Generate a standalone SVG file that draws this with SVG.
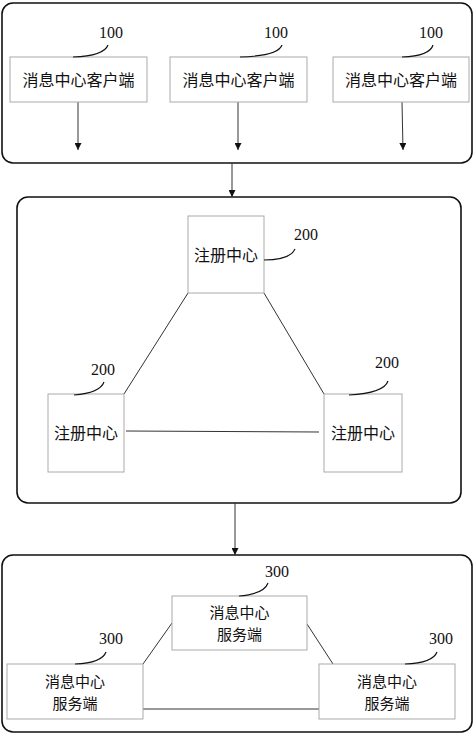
<svg xmlns="http://www.w3.org/2000/svg" width="474" height="734" viewBox="0 0 474 734">
<defs>
<style>
.cont{fill:#fff;stroke:#111;stroke-width:1.6}
.box{fill:#fff;stroke:#aaa;stroke-width:1}
.t{font-family:"Noto Sans CJK SC","Noto Sans",sans-serif;font-size:16px;fill:#111;text-anchor:middle}
.t2{font-family:"Noto Sans CJK SC","Noto Sans",sans-serif;font-size:15px;fill:#111;text-anchor:middle}
.n{font-family:"Liberation Serif",serif;font-size:16px;fill:#111;text-anchor:middle}
.lead{fill:none;stroke:#111;stroke-width:1.2}
.c{fill:none;stroke:#333;stroke-width:1}
</style>
<marker id="ah" viewBox="0 0 10 10" refX="10" refY="5" markerWidth="7" markerHeight="7" markerUnits="userSpaceOnUse" orient="auto">
<path d="M0,0 L10,5 L0,10 z" fill="#111"/>
</marker>
</defs>
<rect width="474" height="734" fill="#fff"/>
<g id="containers">
<rect id="clients" class="cont" x="2" y="3" width="470" height="160" rx="11"/>
<rect id="registry" class="cont" x="17" y="197" width="444" height="306" rx="11"/>
<rect id="servers" class="cont" x="2" y="555" width="470" height="177" rx="11"/>
</g>
<g id="connectors">
<line class="c" x1="78" y1="102" x2="78" y2="150" marker-end="url(#ah)"/>
<line class="c" x1="238" y1="102" x2="238" y2="150" marker-end="url(#ah)"/>
<line class="c" x1="402" y1="102" x2="403" y2="150" marker-end="url(#ah)"/>
<line class="c" x1="232" y1="163" x2="232" y2="197" marker-end="url(#ah)"/>
<line class="c" x1="235" y1="503" x2="235" y2="555" marker-end="url(#ah)"/>
<line class="c" x1="188" y1="293" x2="124" y2="394"/>
<line class="c" x1="264" y1="293" x2="324" y2="394"/>
<line class="c" x1="126" y1="431" x2="319" y2="432"/>
<line class="c" x1="143" y1="664" x2="172" y2="623"/>
<line class="c" x1="307" y1="624" x2="333" y2="664"/>
<line class="c" x1="143" y1="709" x2="319" y2="709"/>
</g>
<g id="client1">
<rect class="box" x="10" y="57" width="137" height="45"/>
<text class="t" x="78.5" y="86">消息中心客户端</text>
<path class="lead" d="M108,45 Q104,56 73,57"/>
<text class="n" x="111" y="38">100</text>
</g>
<g id="client2">
<rect class="box" x="170" y="57" width="137" height="45"/>
<text class="t" x="238.5" y="86">消息中心客户端</text>
<path class="lead" d="M282,45 Q278,56 240,57"/>
<text class="n" x="276" y="38">100</text>
</g>
<g id="client3">
<rect class="box" x="333" y="57" width="136" height="45"/>
<text class="t" x="401" y="86">消息中心客户端</text>
<path class="lead" d="M433,45 Q430,56 402,57"/>
<text class="n" x="431" y="38">100</text>
</g>
<g id="reg-top">
<rect class="box" x="188" y="216" width="76" height="77"/>
<text class="t" x="226" y="261">注册中心</text>
<path class="lead" d="M295,249 Q290,260 264,260"/>
<text class="n" x="306" y="240">200</text>
</g>
<g id="reg-left">
<rect class="box" x="48" y="394" width="76" height="78"/>
<text class="t" x="86" y="439">注册中心</text>
<path class="lead" d="M104,382 Q100,393 74,395"/>
<text class="n" x="103" y="375">200</text>
</g>
<g id="reg-right">
<rect class="box" x="324" y="394" width="78" height="78"/>
<text class="t" x="363" y="439">注册中心</text>
<path class="lead" d="M388,381 Q384,393 349,395"/>
<text class="n" x="387" y="368">200</text>
</g>
<g id="srv-top">
<rect class="box" x="172" y="596" width="135" height="54"/>
<text class="t2" x="239.5" y="617.5">消息中心<tspan x="239.5" dy="22">服务端</tspan></text>
<path class="lead" d="M268,583 Q264,594 239,596"/>
<text class="n" x="277" y="577">300</text>
</g>
<g id="srv-left">
<rect class="box" x="7" y="664" width="136" height="55"/>
<text class="t2" x="75" y="686.5">消息中心<tspan x="75" dy="22">服务端</tspan></text>
<path class="lead" d="M106,652 Q102,663 75,664"/>
<text class="n" x="111" y="644">300</text>
</g>
<g id="srv-right">
<rect class="box" x="319" y="664" width="136" height="55"/>
<text class="t2" x="387" y="686.5">消息中心<tspan x="387" dy="22">服务端</tspan></text>
<path class="lead" d="M437,652 Q433,663 405,664"/>
<text class="n" x="441" y="644">300</text>
</g>
</svg>
